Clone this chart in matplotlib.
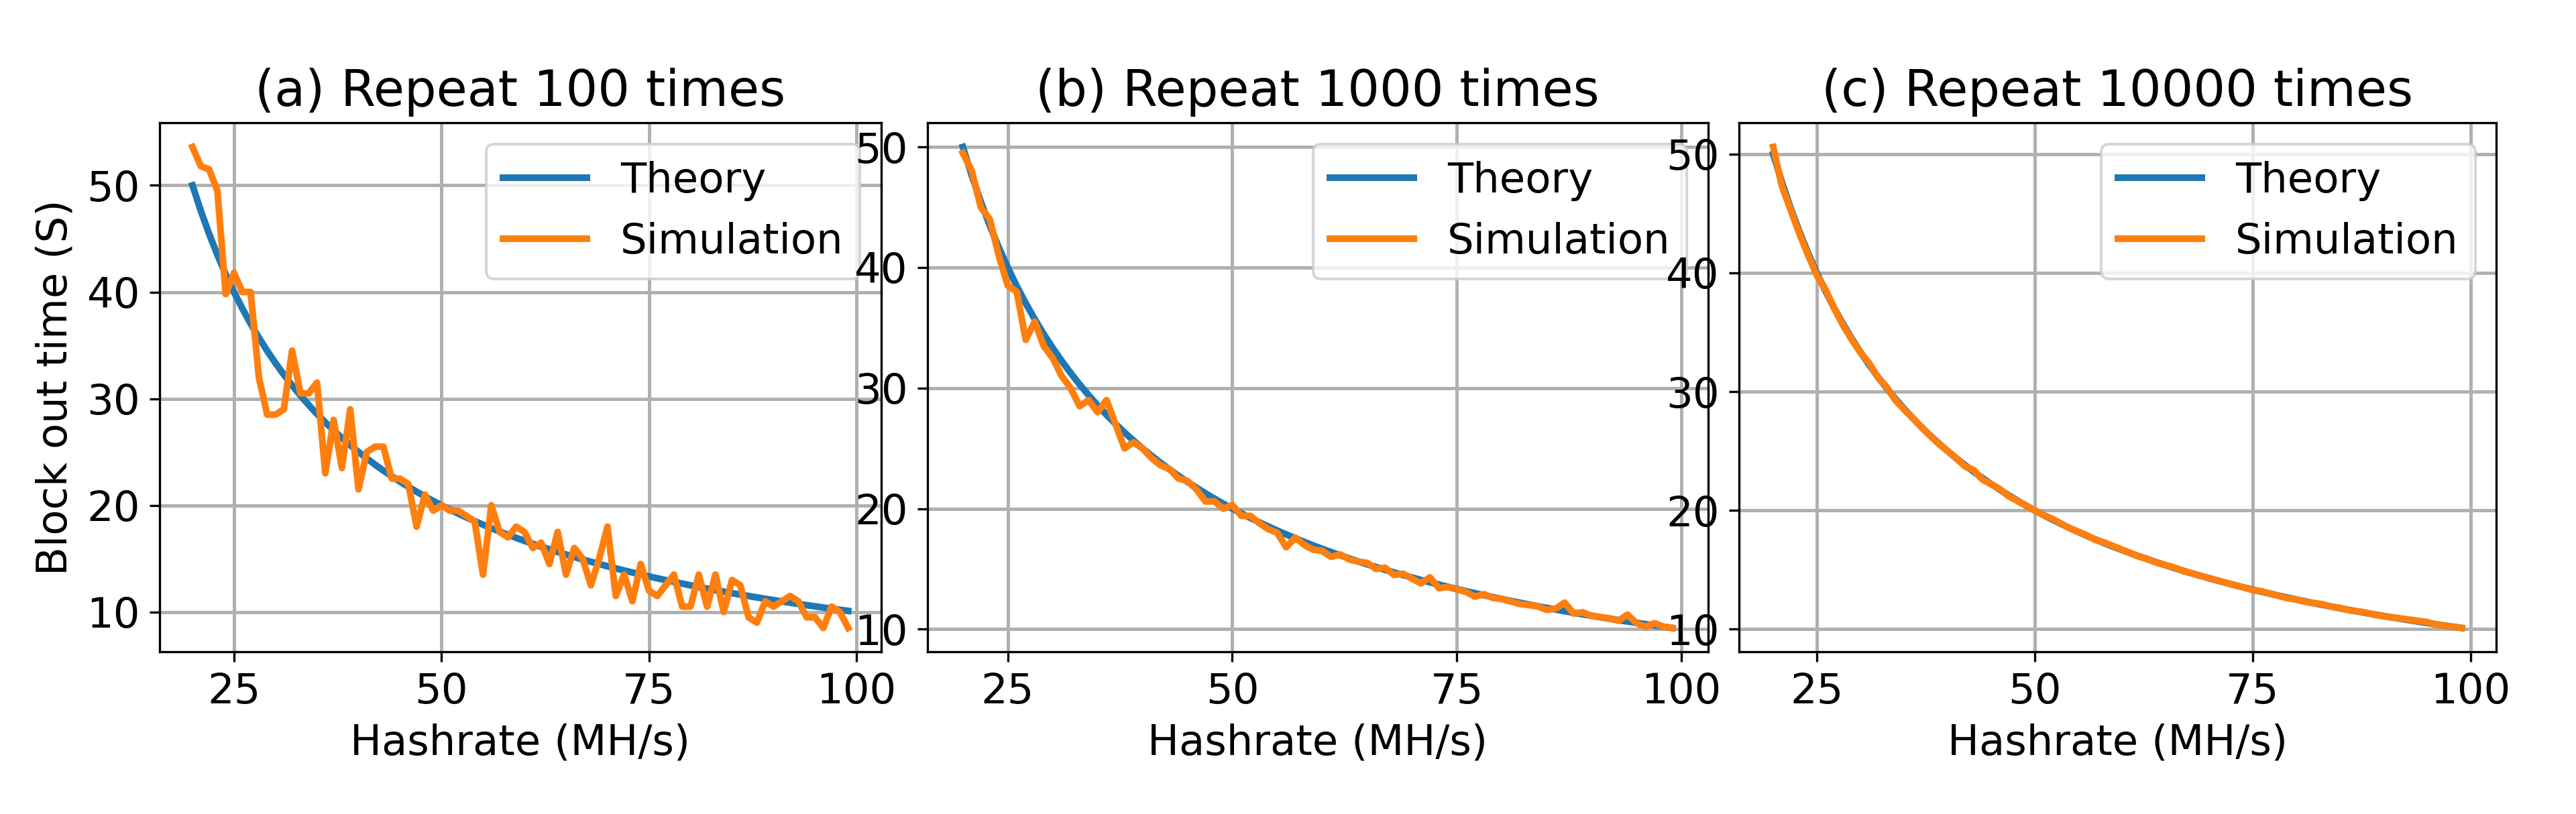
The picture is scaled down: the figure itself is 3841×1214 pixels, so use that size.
import matplotlib
matplotlib.use('Agg')
import matplotlib.pyplot as plt
import numpy as np

hashrate = np.arange(20, 100)
theory = 1000 / hashrate

sim_100 = [53.6, 51.8, 51.5, 49.5, 39.8, 41.8, 40.0, 40.0, 32.0, 28.5,
           28.5, 29.0, 34.5, 30.5, 30.5, 31.5, 23.0, 28.0, 23.5, 29.0,
           21.5, 25.0, 25.5, 25.5, 22.5, 22.5, 22.0, 18.0, 21.0, 19.5,
           20.0, 19.5, 19.5, 19.0, 18.5, 13.5, 20.0, 17.5, 17.0, 18.0,
           17.5, 16.0, 16.5, 14.5, 17.5, 13.5, 16.0, 15.0, 12.5, 15.0,
           18.0, 11.5, 13.5, 11.0, 14.5, 12.0, 11.5, 12.5, 13.5, 10.5,
           10.5, 13.5, 10.5, 13.5, 10.0, 13.0, 12.5, 9.5, 9.0, 11.0,
           10.5, 11.0, 11.5, 11.0, 9.5, 9.5, 8.5, 10.5, 10.0, 8.5]

sim_1000 = [49.5, 48.0, 45.0, 44.0, 41.0, 38.5, 38.0, 34.0, 35.5, 33.5,
            32.5, 31.0, 30.0, 28.5, 29.0, 28.0, 29.0, 27.0, 25.0, 25.5,
            25.0, 24.2, 23.6, 23.3, 22.5, 22.3, 21.6, 20.6, 20.6, 20.0,
            20.3, 19.4, 19.4, 18.8, 18.3, 18.0, 16.8, 17.6, 17.0, 16.6,
            16.5, 16.0, 16.2, 15.8, 15.6, 15.5, 15.0, 15.1, 14.5, 14.6,
            14.2, 13.8, 14.3, 13.4, 13.5, 13.3, 13.1, 12.7, 12.9, 12.6,
            12.5, 12.3, 12.1, 12.0, 11.9, 11.6, 11.7, 12.2, 11.3, 11.4,
            11.1, 11.0, 10.9, 10.7, 11.2, 10.5, 10.2, 10.5, 10.2, 10.1]

sim_10000 = [50.6, 47.3, 45.3, 43.3, 41.5, 39.8, 38.6, 37.0, 35.6, 34.4,
             33.3, 32.4, 31.2, 30.4, 29.3, 28.5, 27.8, 27.0, 26.3, 25.6,
             25.0, 24.4, 23.7, 23.4, 22.6, 22.2, 21.8, 21.2, 20.8, 20.4,
             20.0, 19.6, 19.3, 18.9, 18.5, 18.2, 17.9, 17.5, 17.3, 17.0,
             16.7, 16.4, 16.1, 15.9, 15.6, 15.4, 15.2, 14.9, 14.7, 14.5,
             14.3, 14.1, 13.9, 13.7, 13.5, 13.3, 13.2, 13.0, 12.8, 12.6,
             12.5, 12.3, 12.2, 12.1, 11.9, 11.8, 11.6, 11.5, 11.4, 11.2,
             11.1, 11.0, 10.9, 10.8, 10.7, 10.6, 10.4, 10.3, 10.2, 10.1]

titles = ['(a) Repeat 100 times', '(b) Repeat 1000 times', '(c) Repeat 10000 times']
sims = [sim_100, sim_1000, sim_10000]
boxes = [(0.062, 0.342), (0.360, 0.663), (0.675, 0.969)]

plt.rcParams['font.size'] = 15
fig = plt.figure(figsize=(3841 / 300, 1214 / 300), dpi=300)
for i in range(3):
    l, r = boxes[i]
    ax = fig.add_axes([l, 0.199, r - l, 0.65])
    ax.plot(hashrate, theory, color='#1f77b4', lw=2.4, label='Theory')
    ax.plot(hashrate, sims[i], color='#ff7f0e', lw=2.4, label='Simulation')
    ax.grid(True, color='#b0b0b0', lw=1.2)
    ax.set_title(titles[i], fontsize=18)
    ax.set_xlabel('Hashrate (MH/s)')
    ax.set_xticks([25, 50, 75, 100])
    ax.set_yticks([10, 20, 30, 40, 50])
    if i == 0:
        ax.set_ylabel('Block out time (S)')
    ax.legend(loc='upper right')

fig.savefig('out.png', dpi=300)
